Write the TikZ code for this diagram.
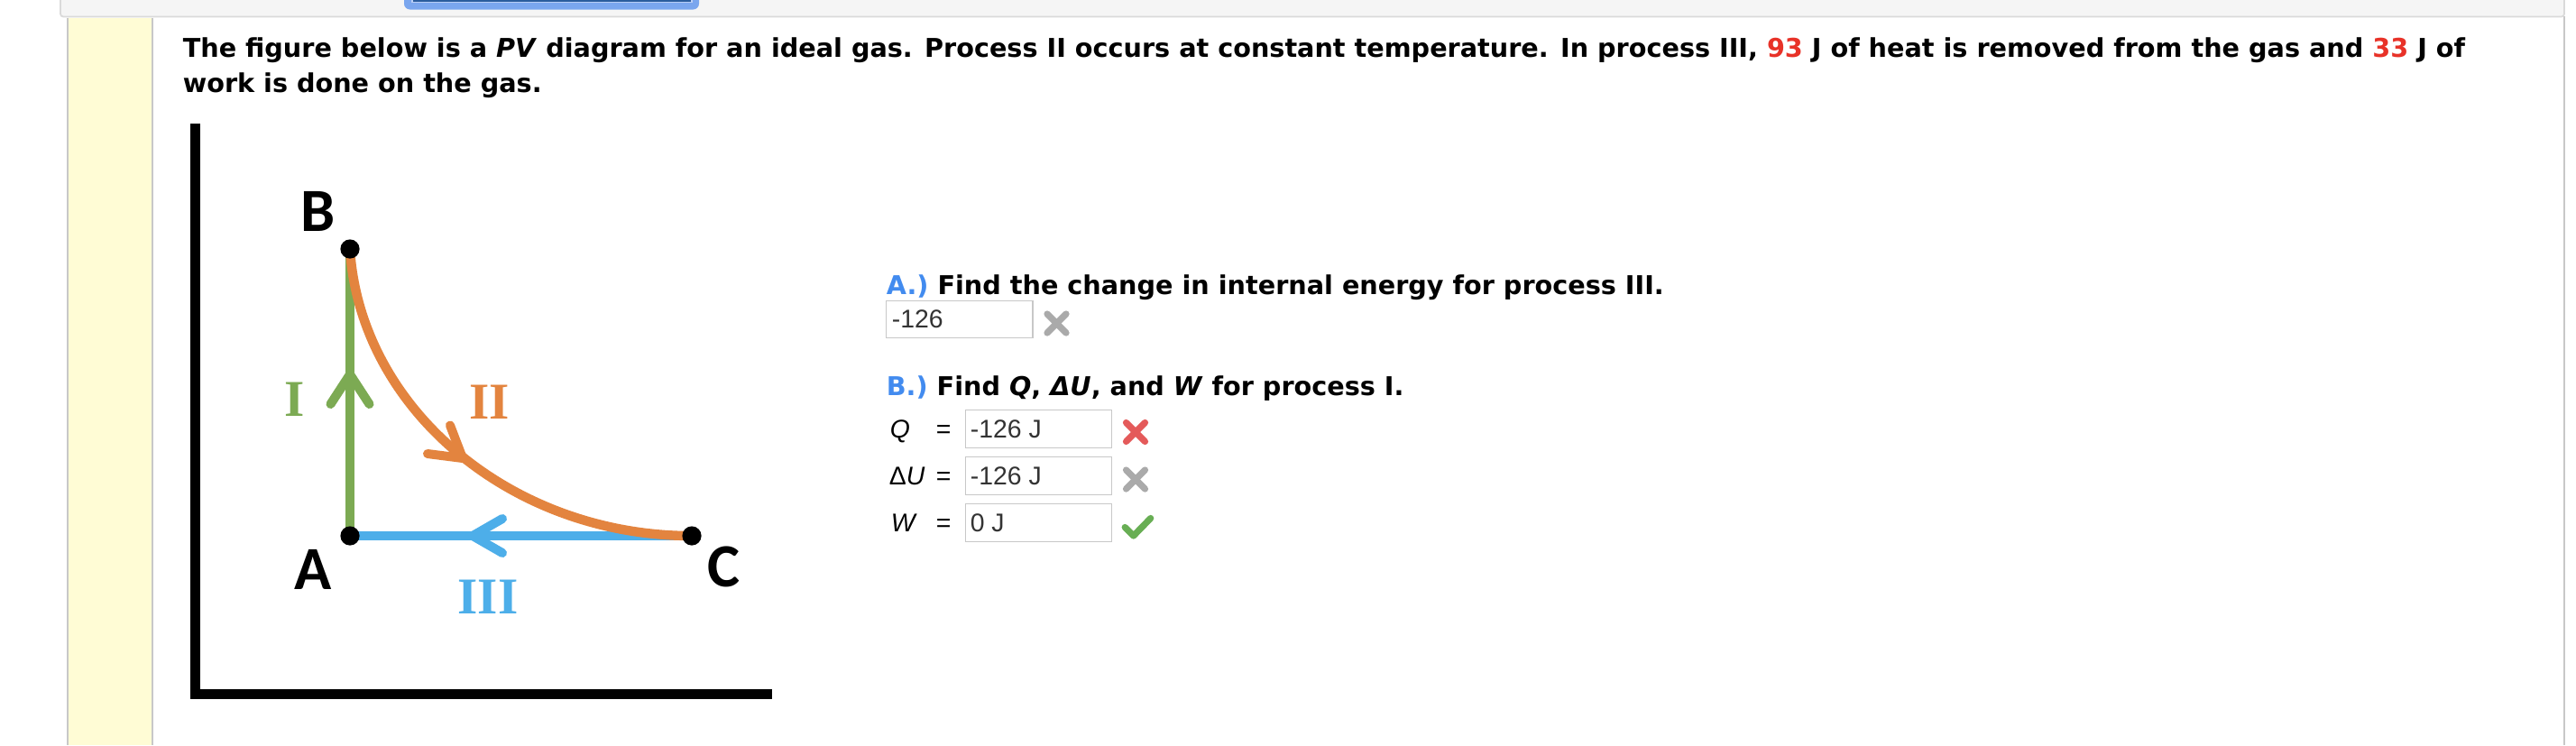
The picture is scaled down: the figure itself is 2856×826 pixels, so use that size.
\documentclass[tikz,border=0pt]{standalone}
\usepackage{fontspec}
\usetikzlibrary{calc}
\newfontfamily\vfont{DejaVu Sans}
\newfontfamily\cfont{Carlito}
\newfontfamily\rfont{Liberation Serif}
\newfontfamily\afont{Liberation Sans}
\definecolor{qred}{RGB}{232,50,40}
\definecolor{qblue}{RGB}{66,139,239}
\definecolor{pgreen}{RGB}{124,170,83}
\definecolor{porange}{RGB}{227,132,63}
\definecolor{pblue}{RGB}{77,174,233}
\definecolor{yel}{RGB}{255,252,213}
\definecolor{bord}{RGB}{200,200,200}
\definecolor{barfill}{RGB}{245,245,245}
\definecolor{barline}{RGB}{218,218,218}
\definecolor{btnlight}{RGB}{122,166,238}
\definecolor{btndark}{RGB}{42,92,158}
\definecolor{btnedge}{RGB}{185,206,245}
\definecolor{txtgray}{RGB}{51,51,51}
\definecolor{icongray}{RGB}{170,170,170}
\definecolor{iconred}{RGB}{228,90,90}
\definecolor{icongreen}{RGB}{104,174,84}
\begin{document}
\begin{tikzpicture}[x=0.25pt,y=-0.25pt,
  hdr/.style={anchor=base west, inner sep=0pt, font=\vfont\bfseries\fontsize{7.17}{9}\selectfont},
  ans/.style={anchor=base west, inner sep=0pt, font=\afont\fontsize{7.1}{8}\selectfont, text=txtgray},
  lbl/.style={anchor=base west, inner sep=0pt, font=\afont\fontsize{7.1}{8}\selectfont, text=black},
  inbox/.style={draw=bord, line width=0.35pt, fill=white, inner sep=0pt, anchor=north west, minimum width=40.6pt},
  ptlabel/.style={anchor=base, inner sep=0pt, font=\cfont\bfseries\fontsize{17}{20}\selectfont},
  roman/.style={anchor=base, inner sep=0pt, font=\rfont\bfseries\fontsize{14.3}{16}\selectfont},
  dot/.style={circle, fill=black, inner sep=0pt, minimum size=5.3pt},
  axisline/.style={line width=2.75pt, line join=miter, line cap=butt},
  proc/.style={line width=2.5pt},
  chev/.style={line width=2.5pt, line cap=round, line join=round},
  icon/.style={line width=1.8pt, line cap=round, line join=round}
]
\useasboundingbox (0,0) rectangle (2856,826);
\fill[white] (0,0) rectangle (2856,826);
% page chrome
\fill[yel] (75,20) rectangle (169,826);
\draw[bord, line width=0.35pt] (75,20) -- (75,826);
\draw[bord, line width=0.35pt] (169,20) -- (169,826);
\draw[bord, line width=0.35pt] (2843,18) -- (2843,826);
\draw[fill=barfill, draw=barline, line width=0.45pt, rounded corners=0.8pt] (67,-6) rectangle (2843,18.5);
\fill[btnlight, rounded corners=1.6pt] (448,-10) rectangle (775,10.5);
\draw[fill=btndark, draw=btnedge, line width=0.3pt] (457,-10) rectangle (767,2.6);
% header text
\node[hdr] (line1) at (202,63) {The figure below is a \textit{PV} diagram for an ideal gas. Process II occurs at constant temperature. In process III, \textcolor{qred}{93} J of heat is removed from the gas and \textcolor{qred}{33} J of};
\node[hdr] (line2) at (202,102) {work is done on the gas.};
% axes
\coordinate (ytop) at (216,137);
\coordinate (orig) at (216,769.5);
\coordinate (xend) at (856,769.5);
\draw[axisline] (ytop) -- (orig) -- (xend);
% state points
\coordinate (pA) at (388,594);
\coordinate (pB) at (388,276);
\coordinate (pC) at (767,594);
\draw[proc, pgreen] (pA) -- (pB);
\draw[proc, pblue] (pC) -- (pA);
\draw[proc, porange, line width=2.6pt] (pB) .. controls (399,452) and (566,594) .. (pC);
% chevrons
\coordinate (tI) at (388,415);
\draw[chev, pgreen] ($(tI)+(-21.5,33)$) -- (tI) -- ($(tI)+(21.5,33)$);
\coordinate (tIII) at (524,594);
\draw[chev, pblue] ($(tIII)+(33,-19)$) -- (tIII) -- ($(tIII)+(33,19)$);
\coordinate (tII) at (513,508);
\draw[chev, porange] ($(tII)+(-14,-36.5)$) -- (tII) -- ($(tII)+(-39,-5)$);
\node[dot] (A) at (pA) {};
\node[dot] (B) at (pB) {};
\node[dot] (C) at (pC) {};
% labels
\node[ptlabel] (labB) at (353,256) {B};
\node[ptlabel] (labA) at (347.5,653) {A};
\node[ptlabel] (labC) at (802,650) {C};
\node[roman, pgreen] (labI) at (326.5,461) {I};
\node[roman, porange] (labII) at (543,464) {II};
\node[roman, pblue] (labIII) at (541,680) {III};
% question A
\node[hdr] (qA) at (982,326) {\textcolor{qblue}{A.)} Find the change in internal energy for process III.};
\node[inbox, minimum height=10.25pt] (boxA) at (981.7,333) {};
\node[ans] (ansA) at (988,363) {-126};
\coordinate (xA) at (1171.5,358.5);
\draw[icon, icongray] ($(xA)+(-10.5,-10.5)$) -- ($(xA)+(10.5,10.5)$);
\draw[icon, icongray] ($(xA)+(-10.5,10.5)$) -- ($(xA)+(10.5,-10.5)$);
% question B
\node[hdr] (qB) at (982,438) {\textcolor{qblue}{B.)} Find \textit{Q}, \textit{ΔU}, and \textit{W} for process I.};
\node[lbl] (lQ) at (986,485) {\textit{Q}};
\node[lbl] (eQ) at (1037,485) {=};
\node[inbox, minimum height=10.5pt] (boxQ) at (1069.6,454) {};
\node[ans] (ansQ) at (1075,485) {-126 J};
\node[lbl] (lU) at (985,537) {Δ\textit{U}};
\node[lbl] (eU) at (1037,537) {=};
\node[inbox, minimum height=10.5pt] (boxU) at (1069.6,506) {};
\node[ans] (ansU) at (1075,537) {-126 J};
\node[lbl] (lW) at (987,589) {\textit{W}};
\node[lbl] (eW) at (1037,589) {=};
\node[inbox, minimum height=10.5pt] (boxW) at (1069.6,558) {};
\node[ans] (ansW) at (1075,589) {0 J};
\coordinate (xQ) at (1259,479);
\draw[icon, iconred] ($(xQ)+(-10.5,-10.5)$) -- ($(xQ)+(10.5,10.5)$);
\draw[icon, iconred] ($(xQ)+(-10.5,10.5)$) -- ($(xQ)+(10.5,-10.5)$);
\coordinate (xU) at (1259,531.5);
\draw[icon, icongray] ($(xU)+(-10.5,-10.5)$) -- ($(xU)+(10.5,10.5)$);
\draw[icon, icongray] ($(xU)+(-10.5,10.5)$) -- ($(xU)+(10.5,-10.5)$);
\coordinate (ckW) at (1256.7,594);
\draw[icon, icongreen] ($(ckW)+(-9.5,-9.5)$) -- (ckW) -- ($(ckW)+(19,-19.5)$);
\end{tikzpicture}
\end{document}
